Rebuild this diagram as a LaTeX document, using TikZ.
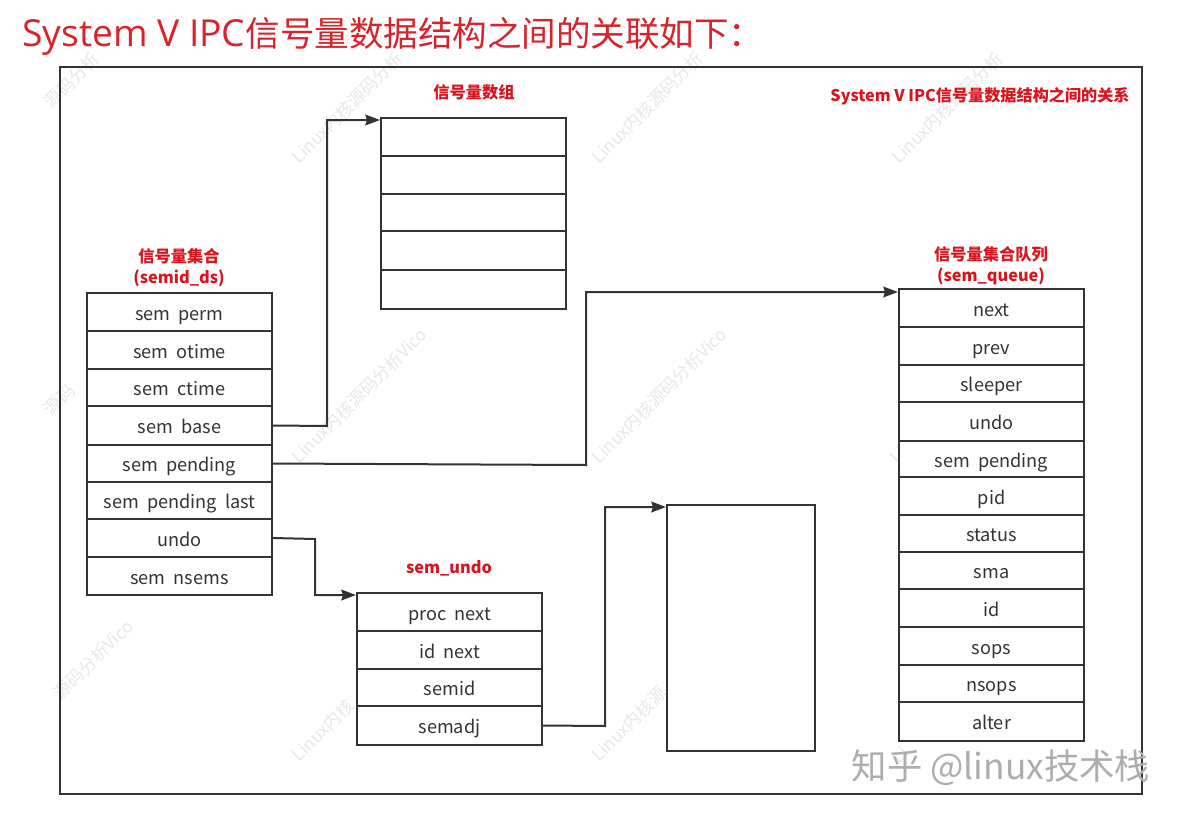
\documentclass[tikz,border=0pt]{standalone}
\usepackage{fontspec}
\setmainfont{Noto Sans CJK SC}
\newfontfamily\latinface{Open Sans}
\usetikzlibrary{arrows.meta}
\definecolor{ink}{HTML}{333333}
\definecolor{redlab}{HTML}{D9141E}
\definecolor{titlered}{HTML}{D8232A}
\definecolor{wm}{HTML}{E8E8E8}
\tikzset{
  cell/.style={draw=ink,line width=1.5pt,fill=white,text=ink,inner sep=0pt,minimum width=138.75pt,text height=14pt,text depth=2pt,font=\fontsize{13.6}{16}\selectfont},
  heading/.style={text=redlab,align=center,inner sep=0pt,font=\fontsize{12.2}{15.75}\selectfont\bfseries},
  link/.style={draw=ink,line width=1.5pt,-{Stealth[inset=1.2pt,length=11pt,width=8pt]}},
  wmark/.style={text=wm,rotate=45,inner sep=0pt,font=\fontsize{13}{15}\selectfont}
}
\newcommand{\cellat}[5]{% name, x-left, y-top, y-bottom, text
  \node[cell,minimum height={(#4-#3)*0.75pt}] (#1) at ({#2+92.5},{(#3+#4)/2}) {#5};}
\begin{document}
\begin{tikzpicture}[x=0.75pt,y=-0.75pt]
\useasboundingbox (0,0) rectangle (1180,817);
\fill[white] (0,0) rectangle (1180,817);

\node[anchor=west,text=titlered,inner sep=0pt,font=\fontsize{25.9}{30}\selectfont] (title) at (22,36) {{\latinface\fontsize{27.9}{30}\selectfont System V IPC}信号量数据结构之间的关联如下：};

% watermarks lie under everything else
\node[wmark,anchor=west] (w1) at (47,105) {源码分析};
\node[wmark,anchor=west] (w2) at (295,160) {Linux内核源码分析};
\node[wmark,anchor=west] (w3) at (595,160) {Linux内核源码分析};
\node[wmark,anchor=west] (w4) at (895,160) {Linux内核源码分析};
\node[wmark,anchor=west] (w5) at (47,412) {源码};
\node[wmark,anchor=west] (w6) at (295,460) {Linux内核源码分析Vico};
\node[wmark,anchor=west] (w7) at (595,460) {Linux内核源码分析Vico};
\node[wmark,anchor=west] (w8) at (893,460) {Li};
\node[wmark,anchor=east] (w9) at (130,623) {源码分析Vico};
\node[wmark,anchor=west] (w10) at (295,758) {Linux内核};
\node[wmark,anchor=west] (w11) at (595,758) {Linux内核源};
\node[wmark,anchor=west] (w12) at (895,760) {Li};

\node[draw=ink,line width=1.5pt,minimum width=811.5pt,minimum height=545.25pt,inner sep=0pt] (frame) at (601,430.5) {};

\node[heading] (h1) at (474,92) {信号量数组};
\node[heading,font=\fontsize{12.1}{14.6}\selectfont\bfseries] (h2) at (980,96) {System V IPC信号量数据结构之间的关系};
\node[heading] (h3) at (179,268) {信号量集合\\(semid\_ds)};
\node[heading] (h4) at (991,266) {信号量集合队列\\(sem\_queue)};
\node[heading] (h5) at (449,568) {sem\_undo};

% semid_ds
\cellat{a1}{87}{293}{331}{sem\ \ perm}
\cellat{a2}{87}{331}{369}{sem\ \ otime}
\cellat{a3}{87}{369}{406}{sem\ \ ctime}
\cellat{a4}{87}{406}{445}{sem\ \ base}
\cellat{a5}{87}{445}{482}{sem\ \ pending}
\cellat{a6}{87}{482}{519}{sem\ \ pending\ \ last}
\cellat{a7}{87}{519}{557}{undo}
\cellat{a8}{87}{557}{595}{sem\ \ nsems}

% array
\cellat{b1}{381}{118}{156}{}
\cellat{b2}{381}{156}{194}{}
\cellat{b3}{381}{194}{231}{}
\cellat{b4}{381}{231}{270}{}
\cellat{b5}{381}{270}{309}{}

% sem_queue
\cellat{q1}{899}{289}{327}{next}
\cellat{q2}{899}{327}{365}{prev}
\cellat{q3}{899}{365}{402}{sleeper}
\cellat{q4}{899}{402}{441}{undo}
\cellat{q5}{899}{441}{477}{sem\ \ pending}
\cellat{q6}{899}{477}{515}{pid}
\cellat{q7}{899}{515}{552}{status}
\cellat{q8}{899}{552}{589}{sma}
\cellat{q9}{899}{589}{627}{id}
\cellat{q10}{899}{627}{665}{sops}
\cellat{q11}{899}{665}{702}{nsops}
\cellat{q12}{899}{702}{741}{alter}

% sem_undo
\cellat{u1}{357}{593}{631}{proc\ \ next}
\cellat{u2}{357}{631}{669}{id\ \ next}
\cellat{u3}{357}{669}{706}{semid}
\cellat{u4}{357}{706}{745}{semadj}

% large box
\node[draw=ink,line width=1.5pt,fill=white,inner sep=0pt,minimum width=111pt,minimum height=184.5pt] (big) at (741,628) {};

% connectors
\draw[link] (a4.east) -- (327,426) |- ([yshift=12.75pt]b1.west);
\draw[link] (a5.east) -- (586,465) |- ([yshift=12pt]q1.west);
\draw[link] (a7.east) -- (315,539) |- ([yshift=12.75pt]u1.west);
\draw[link] (u4.east) -- (605,726) |- ([yshift=90.75pt]big.west);

\node[text=black!32,inner sep=0pt,anchor=center,font=\fontsize{26.5}{30}\selectfont] (zh) at (1001,768) {知乎 @linux技术栈};
\end{tikzpicture}
\end{document}
